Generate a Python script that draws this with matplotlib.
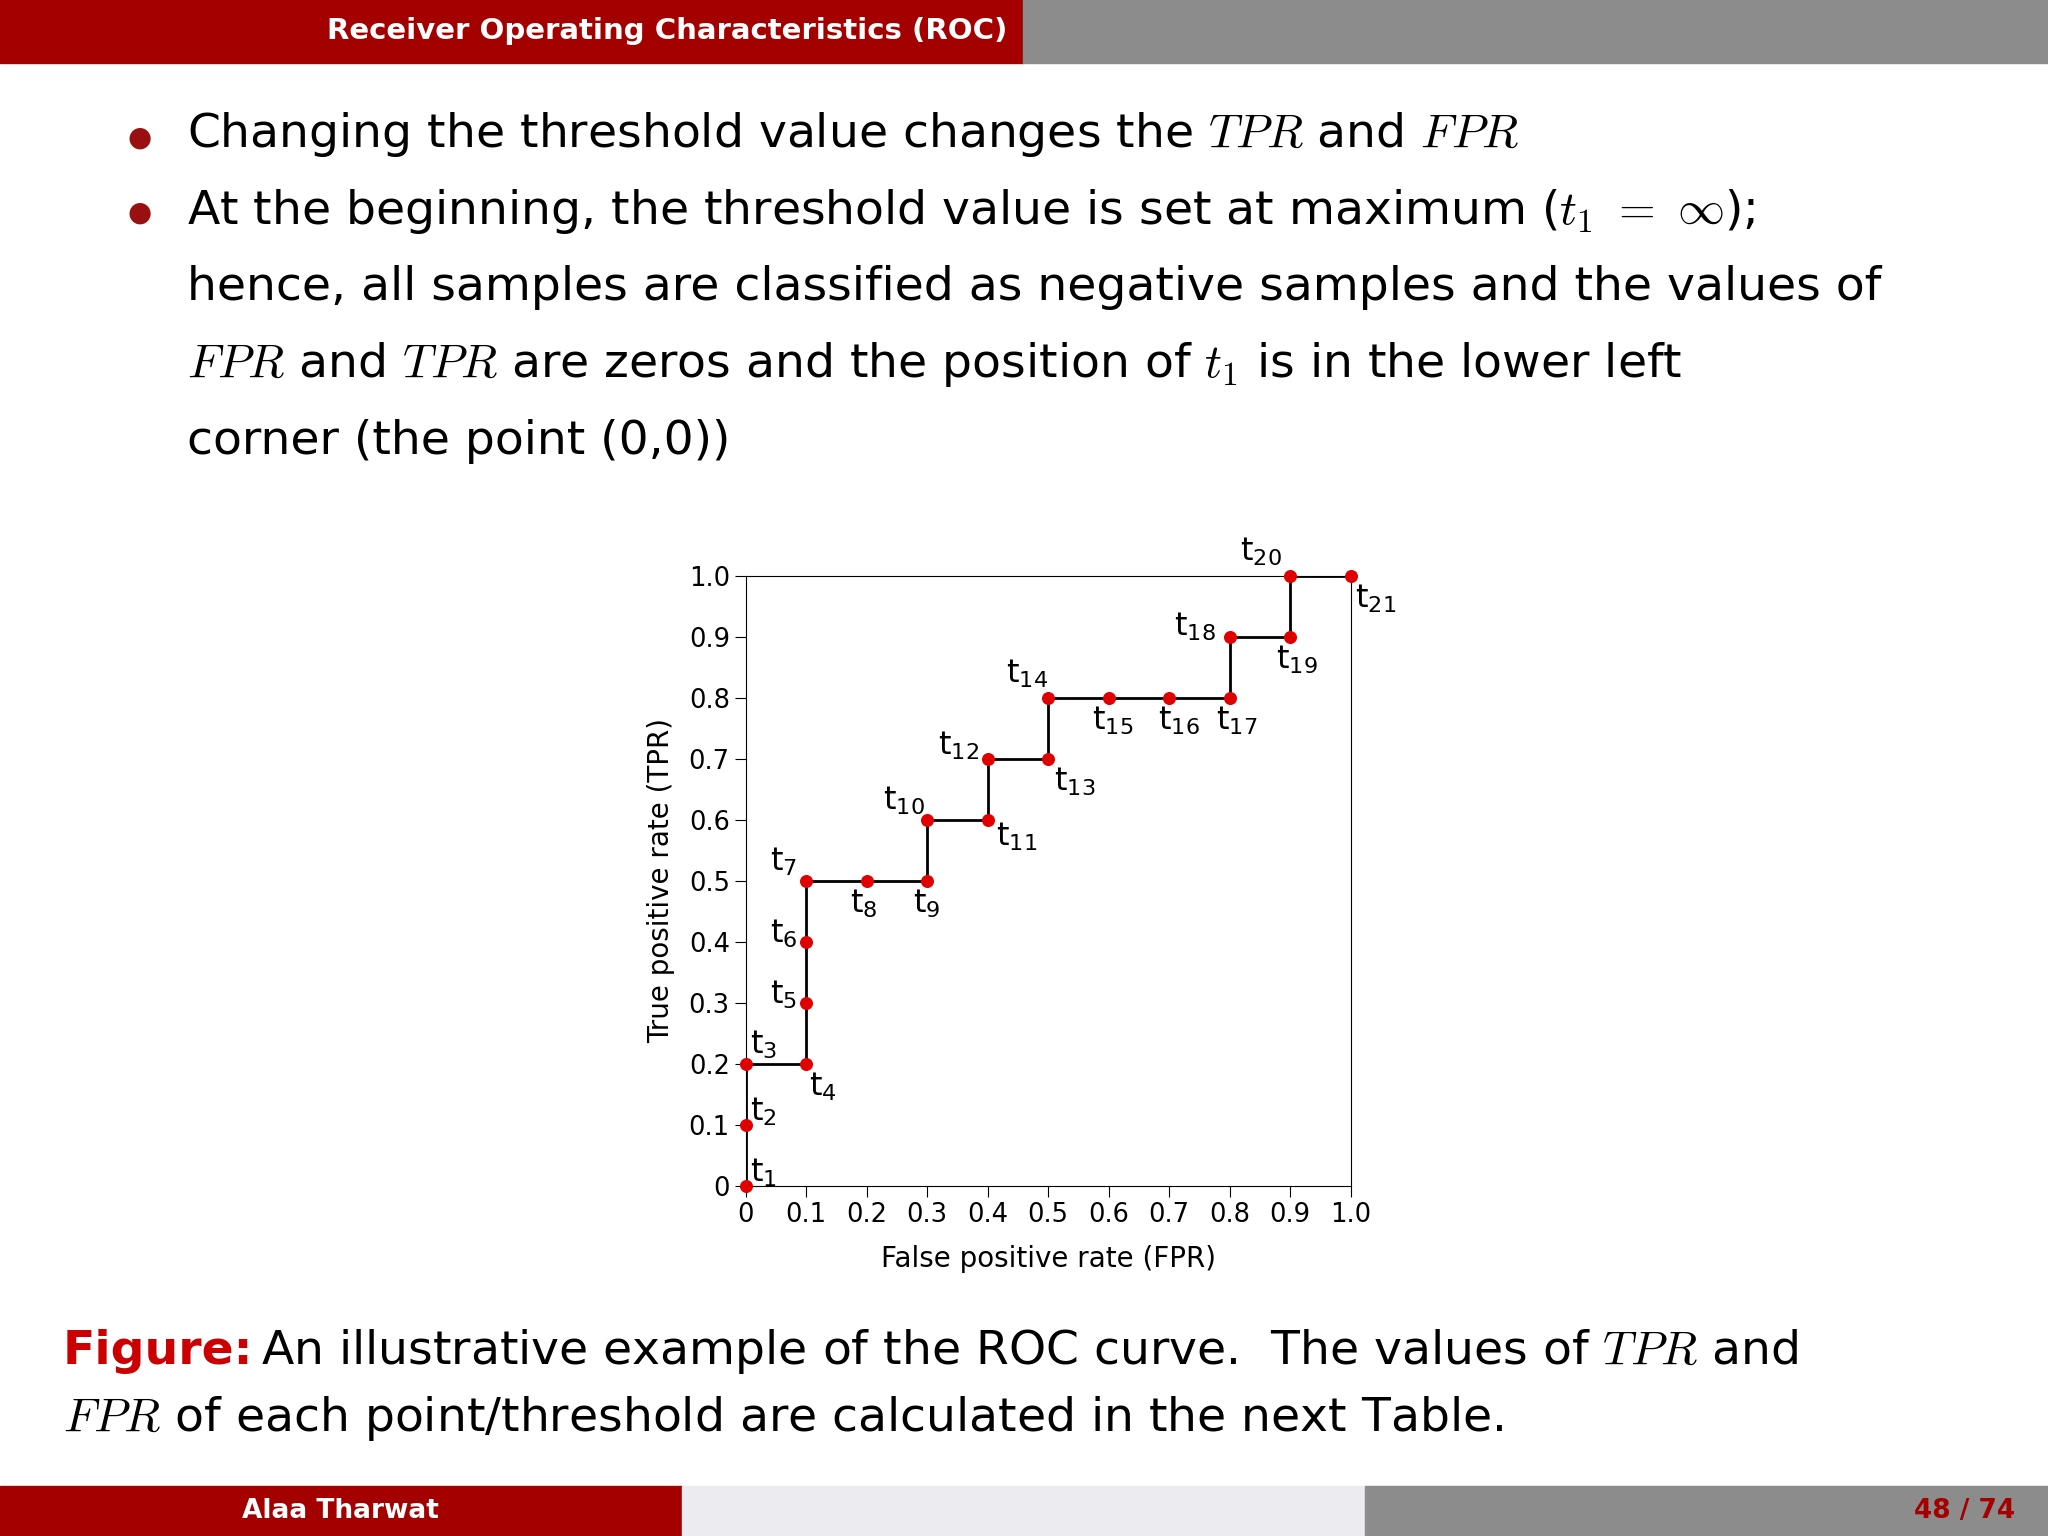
import matplotlib.pyplot as plt
from matplotlib.patches import Rectangle

plt.rcParams['mathtext.fontset'] = 'cm'

# ROC points (FPR, TPR) for thresholds t1..t21
fpr = [0, 0, 0, 0.1, 0.1, 0.1, 0.1, 0.2, 0.3, 0.3, 0.4, 0.4, 0.5, 0.5, 0.6, 0.7, 0.8, 0.8, 0.9, 0.9, 1.0]
tpr = [0, 0.1, 0.2, 0.2, 0.3, 0.4, 0.5, 0.5, 0.5, 0.6, 0.6, 0.7, 0.7, 0.8, 0.8, 0.8, 0.8, 0.9, 0.9, 1.0, 1.0]
labels = [r'$\mathregular{t_{%d}}$' % (i + 1) for i in range(len(fpr))]
# label offsets in points
offsets = [(3, -2), (3, -2), (3, 2), (2, -28), (-26, -6), (-26, -6), (-26, 2), (-12, -28),
           (-10, -28), (-32, 2), (6, -24), (-36, -2), (4, -28), (-30, 6), (-12, -28), (-8, -28),
           (-10, -28), (-40, -4), (-10, -28), (-36, 6), (3, -28)]
ticks = [0, 0.1, 0.2, 0.3, 0.4, 0.5, 0.6, 0.7, 0.8, 0.9, 1.0]
tick_labels = ['0', '0.1', '0.2', '0.3', '0.4', '0.5', '0.6', '0.7', '0.8', '0.9', '1.0']

W, H = 1568.0, 1176.0
fig = plt.figure(figsize=(20.48, 15.36), dpi=100)

def fx(x): return x / W
def fy(y): return 1 - y / H

dark_red = '#a40000'
gray = '#8c8c8c'

# header / footer bars
fig.patches.append(Rectangle((0, fy(48)), fx(783), 48 / H, transform=fig.transFigure, color=dark_red))
fig.patches.append(Rectangle((fx(783), fy(48)), 1 - fx(783), 48 / H, transform=fig.transFigure, color=gray))
fig.patches.append(Rectangle((0, 0), fx(522), 38 / H, transform=fig.transFigure, color=dark_red))
fig.patches.append(Rectangle((fx(522), 0), fx(523), 38 / H, transform=fig.transFigure, color='#ececf0'))
fig.patches.append(Rectangle((fx(1045), 0), 1 - fx(1045), 38 / H, transform=fig.transFigure, color=gray))
fig.text(fx(511), fy(24), 'Receiver Operating Characteristics (ROC)', color='white', fontsize=21,
         ha='center', va='center', fontweight='semibold')
fig.text(fx(261), fy(1157), 'Alaa Tharwat', color='white', fontsize=19, ha='center', va='center', fontweight='bold')
fig.text(fx(1543), fy(1157), '48 / 74', color=dark_red, fontsize=19, ha='right', va='center', fontweight='bold')

# bullets
bfs = 34
for y in [105, 163]:
    fig.text(fx(107), fy(y), '\u25CF', color='#9a1010', fontsize=20, ha='center', va='center')
lines = [(103, r'Changing the threshold value changes the $\mathit{TPR}$ and $\mathit{FPR}$'),
         (162, r'At the beginning, the threshold value is set at maximum ($t_1\ =\ \infty$);'),
         (220, 'hence, all samples are classified as negative samples and the values of'),
         (279, r'$\mathit{FPR}$ and $\mathit{TPR}$ are zeros and the position of $t_1$ is in the lower left'),
         (338, 'corner (the point (0,0))')]
for y, s in lines:
    fig.text(fx(143), fy(y), s, fontsize=bfs, ha='left', va='center')

fig.text(fx(48), fy(1035), 'Figure:', color='#cc0000', fontsize=bfs, fontweight='bold', ha='left', va='center')
fig.text(fx(200), fy(1035), r'An illustrative example of the ROC curve.  The values of $\mathit{TPR}$ and',
         fontsize=bfs, ha='left', va='center')
fig.text(fx(48), fy(1086), r'$\mathit{FPR}$ of each point/threshold are calculated in the next Table.',
         fontsize=bfs, ha='left', va='center')

# ROC plot
ax = fig.add_axes([fx(571), fy(908), (1034 - 571) / W, (908 - 441) / H])
ax.plot(fpr, tpr, color='black', lw=2, zorder=2)
ax.scatter(fpr, tpr, color='#e00000', s=70, zorder=3, clip_on=False)
for x, y, lab, off in zip(fpr, tpr, labels, offsets):
    ax.annotate(lab, (x, y), xytext=off, textcoords='offset points', fontsize=23,
                ha='left', va='bottom', annotation_clip=False)
ax.set_xlim(0, 1)
ax.set_ylim(0, 1)
ax.set_xticks(ticks)
ax.set_xticklabels(tick_labels)
ax.set_yticks(ticks)
ax.set_yticklabels(tick_labels)
ax.tick_params(labelsize=18.5, direction='out', length=8)
ax.set_xlabel('False positive rate (FPR)', fontsize=20, labelpad=12)
ax.set_ylabel('True positive rate (TPR)', fontsize=20, labelpad=10)

fig.savefig('out.png', dpi=100)
